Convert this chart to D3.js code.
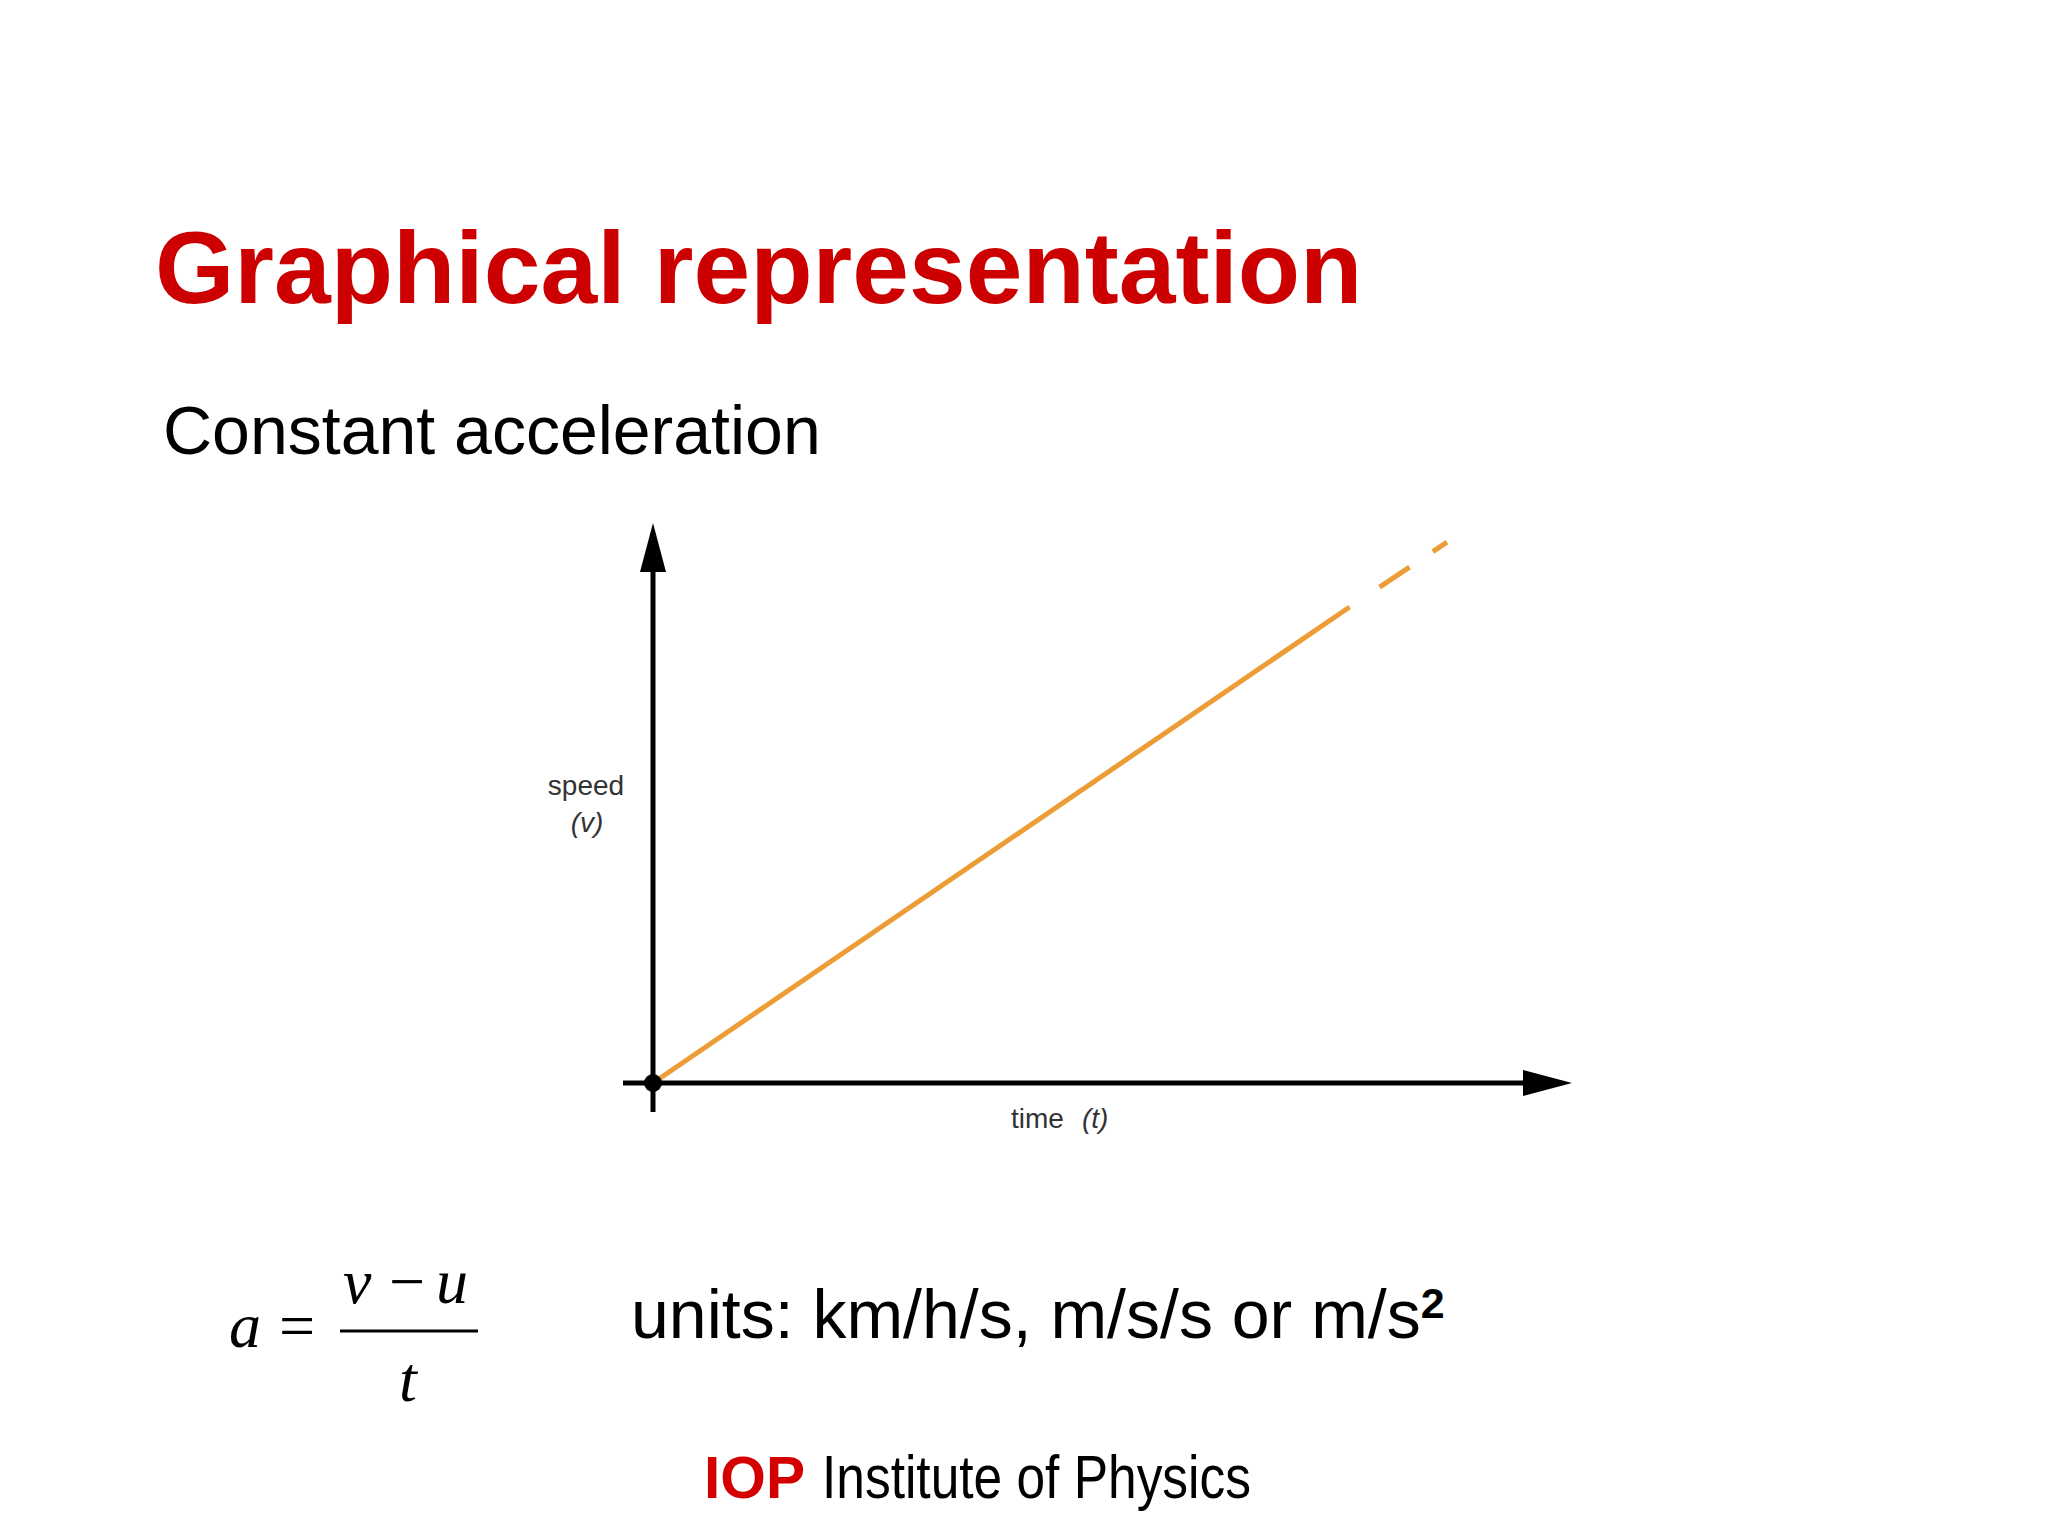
<!DOCTYPE html>
<html>
<head>
<meta charset="utf-8">
<script src="https://cdn.jsdelivr.net/npm/d3@7"></script>
<style>
  body { margin: 0; background: #fff; }
</style>
</head>
<body>
<div id="slide"></div>
<script>
// Chart data (schematic speed-time graph, arbitrary units)
var timeValues = [0, 7.58];        // solid part of the line
var speedValues = [0, 8.5];
var extTimeValues = [7.58, 8.66];  // dashed continuation
var extSpeedValues = [8.5, 9.68];
var axisDomain = [0, 10];

// Texts
var titleText = 'Graphical representation';
var subtitleText = 'Constant acceleration';
var yLabel = ['speed', '(v)'];
var xLabel = ['time', '(t)'];
var unitsText = 'units: km/h/s, m/s/s or m/s';

// Set svg width and height
var svgWidth = 2048;
var svgHeight = 1536;

var svg = d3.select('#slide')
    .append('svg')
    .attr('width', svgWidth)
    .attr('height', svgHeight);

svg.append('rect')
    .attr('width', svgWidth)
    .attr('height', svgHeight)
    .attr('fill', '#fff');

// Title and subtitle
svg.append('text')
    .attr('x', 155)
    .attr('y', 303)
    .attr('font-family', 'Liberation Sans, Arial, sans-serif')
    .attr('font-weight', 'bold')
    .attr('font-size', 102)
    .attr('fill', '#cc0000')
    .text(titleText);

svg.append('text')
    .attr('x', 163)
    .attr('y', 454)
    .attr('font-family', 'Liberation Sans, Arial, sans-serif')
    .attr('font-size', 68)
    .attr('fill', '#000')
    .text(subtitleText);

// Scales
var origin = { x: 653, y: 1083 };
var xScale = d3.scaleLinear()
    .domain(axisDomain)
    .range([origin.x, 1572]);

var yScale = d3.scaleLinear()
    .domain(axisDomain)
    .range([origin.y, 523]);

var chartGroup = svg.append('g');

// Arrow heads
var defs = svg.append('defs');
defs.append('marker')
    .attr('id', 'arrow')
    .attr('viewBox', '0 0 49 26')
    .attr('refX', 49)
    .attr('refY', 13)
    .attr('markerWidth', 49)
    .attr('markerHeight', 26)
    .attr('markerUnits', 'userSpaceOnUse')
    .attr('orient', 'auto')
    .append('path')
    .attr('d', 'M0,0L49,13L0,26Z')
    .attr('fill', '#000');

// Axes (with short stubs past the origin)
chartGroup.append('line')
    .attr('x1', xScale(axisDomain[0]) - 30)
    .attr('y1', yScale(0))
    .attr('x2', xScale(axisDomain[1]) - 10)
    .attr('y2', yScale(0))
    .attr('stroke', '#000')
    .attr('stroke-width', 5);

chartGroup.append('line')
    .attr('x1', xScale(0))
    .attr('y1', yScale(axisDomain[0]) + 29)
    .attr('x2', xScale(0))
    .attr('y2', yScale(axisDomain[1]) + 10)
    .attr('stroke', '#000')
    .attr('stroke-width', 5);

// arrow tips at the ends of the axes
chartGroup.append('line')
    .attr('x1', xScale(axisDomain[1]) - 60).attr('y1', yScale(0))
    .attr('x2', xScale(axisDomain[1])).attr('y2', yScale(0))
    .attr('stroke', 'none')
    .attr('marker-end', 'url(#arrow)');

chartGroup.append('line')
    .attr('x1', xScale(0)).attr('y1', yScale(axisDomain[1]) + 60)
    .attr('x2', xScale(0)).attr('y2', yScale(axisDomain[1]))
    .attr('stroke', 'none')
    .attr('marker-end', 'url(#arrow)');

// Speed line
var line = d3.line()
    .x(d => xScale(d[0]))
    .y(d => yScale(d[1]));

chartGroup.append('path')
    .datum(d3.zip(timeValues, speedValues))
    .attr('d', line)
    .attr('fill', 'none')
    .attr('stroke', '#ec9d36')
    .attr('stroke-width', 5);

chartGroup.append('path')
    .datum(d3.zip(extTimeValues, extSpeedValues))
    .attr('d', line)
    .attr('fill', 'none')
    .attr('stroke', '#ec9d36')
    .attr('stroke-width', 5)
    .attr('stroke-linecap', 'butt')
    .attr('stroke-dasharray', '0 36 36 28 17 20');

// Origin dot
chartGroup.append('circle')
    .attr('cx', xScale(0))
    .attr('cy', yScale(0))
    .attr('r', 9)
    .attr('fill', '#000');

// Axis labels
chartGroup.append('text')
    .attr('x', 586)
    .attr('y', 795)
    .attr('text-anchor', 'middle')
    .attr('font-family', 'Liberation Sans, Arial, sans-serif')
    .attr('font-size', 28)
    .attr('fill', '#333')
    .text(yLabel[0]);

chartGroup.append('text')
    .attr('x', 587)
    .attr('y', 832)
    .attr('text-anchor', 'middle')
    .attr('font-family', 'Liberation Sans, Arial, sans-serif')
    .attr('font-style', 'italic')
    .attr('font-size', 28)
    .attr('fill', '#333')
    .text(yLabel[1]);

var xLab = chartGroup.append('text')
    .attr('x', 1011)
    .attr('y', 1128)
    .attr('font-family', 'Liberation Sans, Arial, sans-serif')
    .attr('font-size', 28)
    .attr('fill', '#333');
xLab.append('tspan').text(xLabel[0]);
xLab.append('tspan')
    .attr('x', 1082)
    .attr('font-style', 'italic')
    .text(xLabel[1]);

// Equation a = (v - u) / t
var eq = svg.append('g')
    .attr('font-family', 'Liberation Serif, Times New Roman, serif')
    .attr('font-size', 64)
    .attr('fill', '#000');

eq.append('text').attr('x', 229).attr('y', 1347).attr('font-style', 'italic').text('a');
eq.append('text').attr('x', 279).attr('y', 1347).text('=');
eq.append('text').attr('x', 343).attr('y', 1303).attr('font-style', 'italic').text('v');
eq.append('text').attr('x', 389).attr('y', 1303).text('\u2212');
eq.append('text').attr('x', 436).attr('y', 1303).attr('font-style', 'italic').text('u');
eq.append('line')
    .attr('x1', 340).attr('x2', 478)
    .attr('y1', 1331).attr('y2', 1331)
    .attr('stroke', '#000')
    .attr('stroke-width', 3);
eq.append('text').attr('x', 399).attr('y', 1401).attr('font-style', 'italic').text('t');

// Units
var units = svg.append('text')
    .attr('x', 631)
    .attr('y', 1338)
    .attr('font-family', 'Liberation Sans, Arial, sans-serif')
    .attr('font-size', 68)
    .attr('fill', '#000');
units.append('tspan').text(unitsText);
units.append('tspan')
    .attr('dy', -20)
    .attr('font-size', 43)
    .attr('font-weight', 'bold')
    .text('2');

// Footer logo text
svg.append('text')
    .attr('x', 704)
    .attr('y', 1498)
    .attr('font-family', 'Liberation Sans, Arial, sans-serif')
    .attr('font-weight', 'bold')
    .attr('font-size', 60)
    .attr('fill', '#d40000')
    .attr('textLength', 101)
    .attr('lengthAdjust', 'spacingAndGlyphs')
    .text('IOP');

svg.append('text')
    .attr('x', 822)
    .attr('y', 1498)
    .attr('font-family', 'Liberation Sans Narrow, Liberation Sans, Arial, sans-serif')
    .attr('font-size', 61)
    .attr('fill', '#000')
    .attr('textLength', 429)
    .attr('lengthAdjust', 'spacingAndGlyphs')
    .text('Institute of Physics');
</script>
</body>
</html>
